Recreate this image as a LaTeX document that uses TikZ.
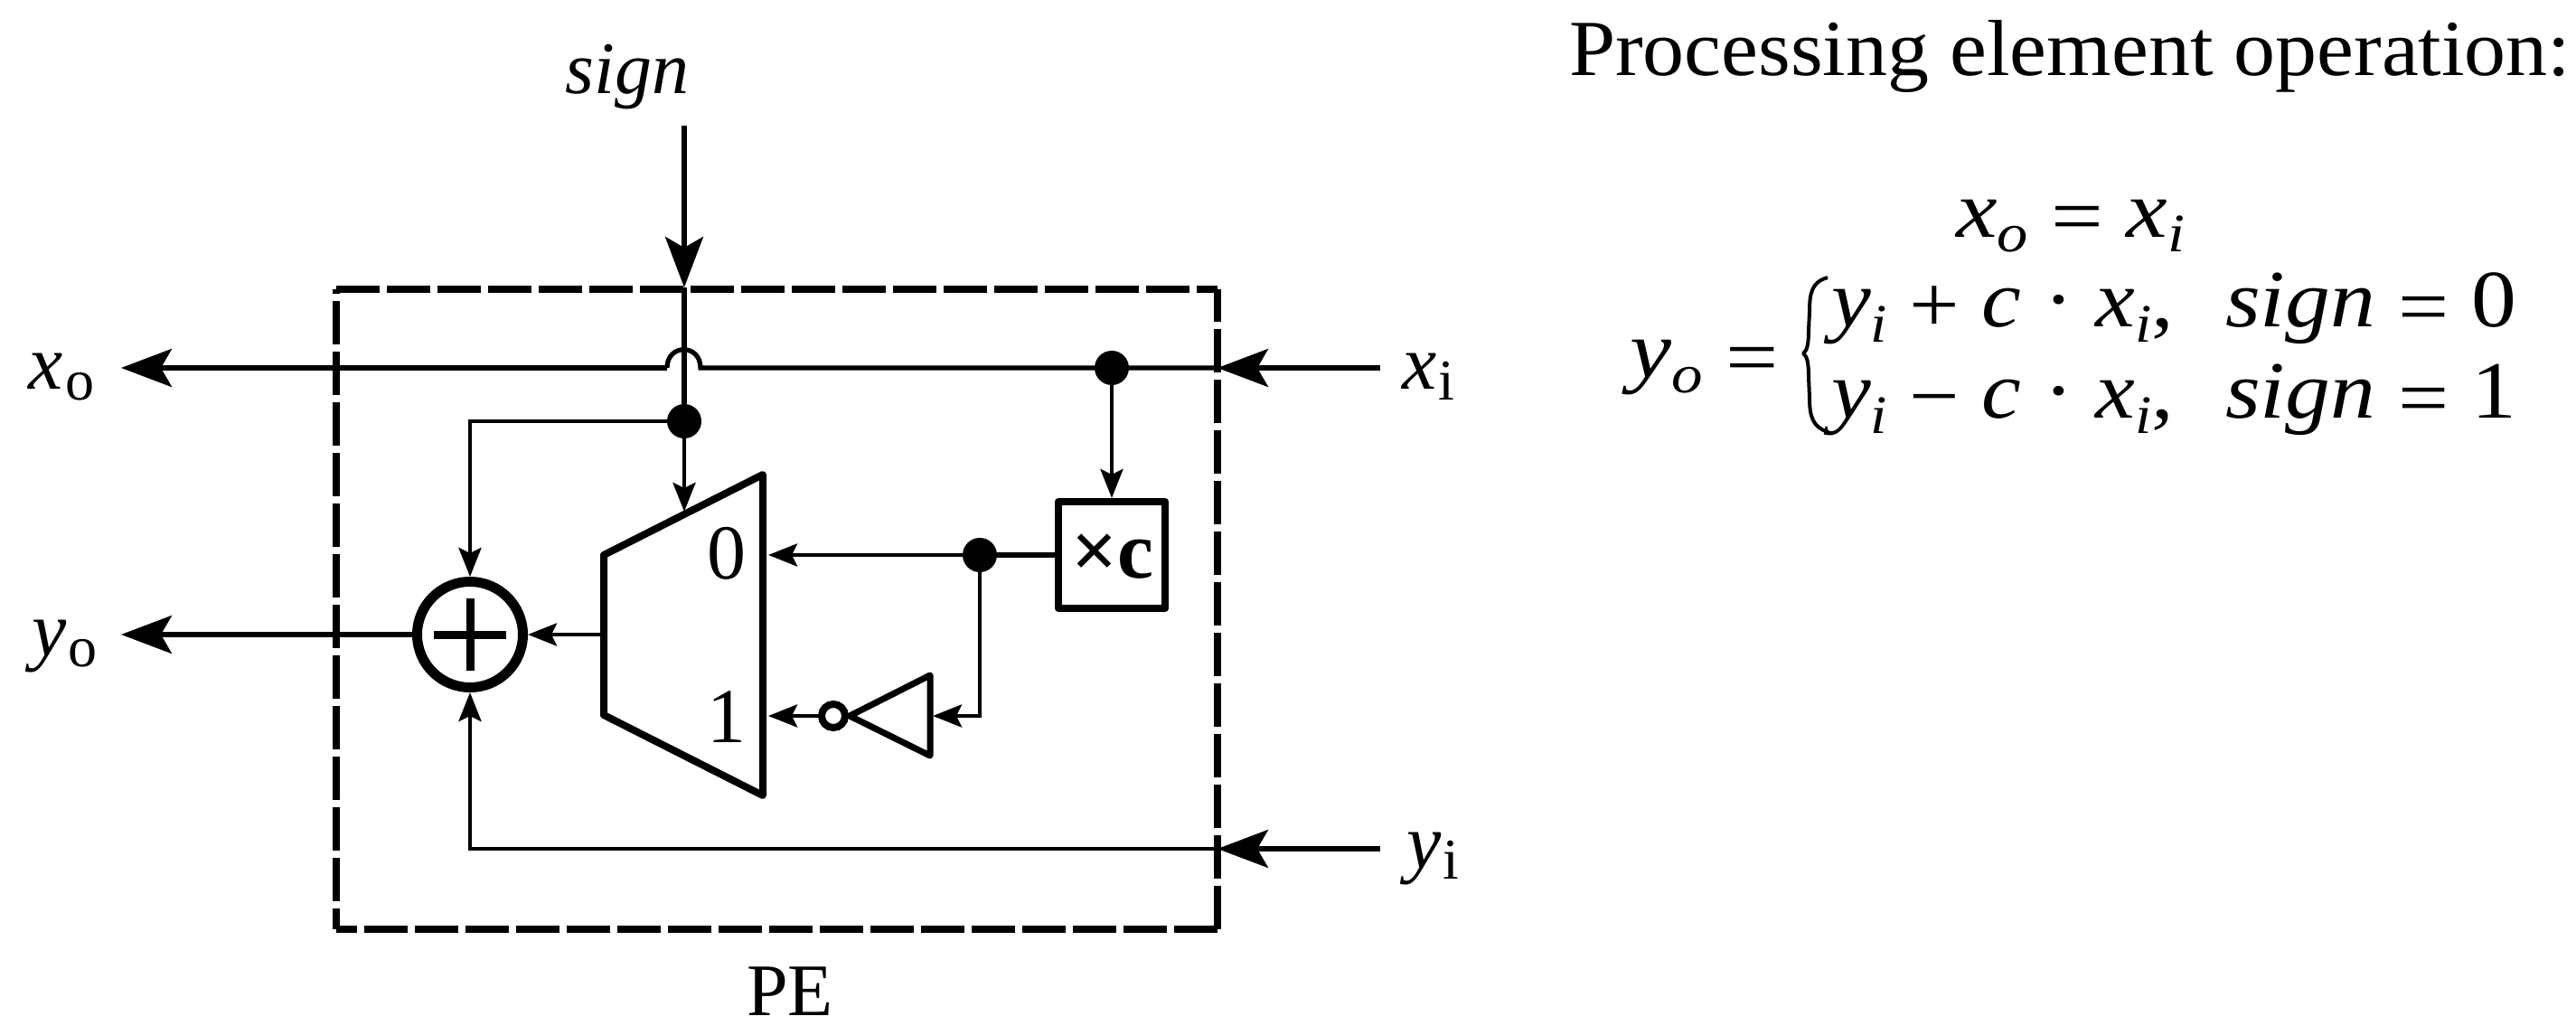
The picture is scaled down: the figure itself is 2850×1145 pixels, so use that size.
\documentclass[tikz,border=0pt]{standalone}
\usepackage{fontspec}
\usepackage{graphicx}
\setmainfont{Liberation Serif}
\usetikzlibrary{arrows.meta}
\newcommand{\fs}[1]{\fontsize{#1}{#1}\selectfont}
\newcommand{\lab}[3]{{\fs{43}\textit{#1}\kern1pt\raisebox{#3}{\fs{32}#2}}}
\newcommand{\vv}[2]{\textit{#1}\raisebox{-8.5pt}{\fs{30}\textit{#2}}}
\newcommand{\eqt}[2]{\scalebox{#1}[1]{\fs{45}#2}}
\newcommand{\eqs}{\raisebox{-4pt}{=}}
\newcommand{\ops}[1]{\raisebox{-3pt}{#1}}
\tikzset{
  main/.style={line width=2.6pt},
  thin line/.style={line width=2.2pt},
  bigarrow/.style={main,-{Stealth[length=28pt,width=21pt,inset=6pt]}},
  smallarrow/.style={thin line,-{Stealth[length=16pt,width=12.5pt,inset=3pt]}},
  peside/.style={line width=4pt,dash pattern=on 24pt off 4pt},
  junction/.style={circle,fill=black,draw=none,minimum size=19pt,inner sep=0pt},
  txt/.style={inner sep=0pt,outer sep=0pt,anchor=base},
  block/.style={line width=4pt,line join=round},
}
\begin{document}
\begin{tikzpicture}[x=0.5pt,y=-0.5pt]
\useasboundingbox (0,0) rectangle (2850,1145);
% PE box corners
\coordinate (peTL) at (372,320);
\coordinate (peTR) at (1347,320);
\coordinate (peBL) at (372,1028);
\coordinate (peBR) at (1347,1028);
\draw[peside] (peTL) -- (peTR);
\draw[peside,dash phase=21.5pt] (peTL) -- (peBL);
\draw[peside] (peBR) -- (peBL);
\draw[peside] (peBR) -- (peTR);
% blocks
\node[circle,draw,line width=5.5pt,minimum size=58.5pt,inner sep=0pt] (adder) at (520,702) {};
\draw[line width=4.5pt] (adder.center) ++(-40,0) -- ++(80,0);
\draw[line width=4.5pt] (adder.center) ++(0,-40) -- ++(0,80);
\coordinate (muxTR) at (844,525);
\coordinate (muxTL) at (668,614);
\coordinate (muxBL) at (668,791);
\coordinate (muxBR) at (844,880);
\draw[block] (muxTR) -- (muxTL) -- (muxBL) -- (muxBR) -- cycle;
\node[draw,block,minimum width=59pt,minimum height=59pt,inner sep=0pt] (mul) at (1230,614) {};
\node[txt] (multxt) at (1231,639) {\fs{45}\bfseries ×c};
\node[txt] (zero) at (804,640) {\fs{43}0};
\node[txt] (one) at (804,821) {\fs{43}1};
\coordinate (invT) at (1029,747);
\coordinate (invB) at (1029,836);
\coordinate (invP) at (940,792);
\draw[line width=3.5pt,line join=round] (invT) -- (invP) -- (invB) -- cycle;
\node[circle,draw,line width=4pt,fill=white,minimum size=13pt,inner sep=0pt] (bubble) at (922,792) {};
% junctions
\node[junction] (jS) at (757,466) {};
\node[junction] (jX) at (1230,407) {};
\node[junction] (jM) at (1084,614) {};
% free ends
\coordinate (signTop) at (757,139);
\coordinate (signTip) at (757,318);
\coordinate (muxSel) at (757,566);
\coordinate (xiEnd) at (1527,407);
\coordinate (xiTip) at (1347,407);
\coordinate (xoTip) at (134,407);
\coordinate (hopR) at (775,407);
\coordinate (hopL) at (738,407);
\coordinate (yiEnd) at (1527,939);
\coordinate (yiTip) at (1347,939);
\coordinate (yoTip) at (134,702);
\coordinate (mux0) at (850,614);
\coordinate (mux1) at (850,792);
\coordinate (muxOut) at (668,702);
\coordinate (invIn) at (1032,792);
% connectors
\draw[bigarrow] (signTop) -- (signTip);
\draw[main] (signTip) -- (jS);
\draw[smallarrow] (jS) -- (muxSel);
\draw[smallarrow] (jS) -| (adder.north);
\draw[bigarrow] (xiEnd) -- (xiTip);
\draw[main] (xiTip) -- (hopR) .. controls (775,380) and (738,380) .. (hopL);
\draw[bigarrow] (hopL) -- (xoTip);
\draw[smallarrow] (jX) -- (mul.north);
\draw[main] (mul.west) -- (jM);
\draw[smallarrow] (jM) -- (mux0);
\draw[smallarrow] (jM) |- (invIn);
\draw[smallarrow] (bubble.west) -- (mux1);
\draw[smallarrow] (muxOut) -- (adder.east);
\draw[bigarrow] (adder.west) -- (yoTip);
\draw[bigarrow] (yiEnd) -- (yiTip);
\draw[smallarrow] (yiTip) -| (adder.south);
% labels
\node[txt] (signlab) at (694,104) {\fs{41}\textit{sign}};
\node[txt,anchor=base west] (xolab) at (32,430) {\lab{x}{o}{-6pt}};
\node[txt,anchor=base west] (yolab) at (35,725) {\lab{y}{o}{-6pt}};
\node[txt,anchor=base west] (xilab) at (1551,430) {\lab{x}{i}{-6pt}};
\node[txt,anchor=base west] (yilab) at (1556,960) {\lab{y}{i}{-6pt}};
\node[txt] (pelab) at (874,1123) {\fs{41}PE};
% right side
\node[txt,anchor=base west] (title) at (1736,84) {\scalebox{1.045}[1]{\fs{44}Processing element operation:}};
\node[txt,anchor=base west] (eqx) at (2164,262) {\eqt{1.14}{\vv{x}{o} \eqs{} \vv{x}{i}}};
\node[txt,anchor=base west] (eqy) at (1803,417) {\eqt{1.15}{\vv{y}{o} \eqs}};
\draw[line width=2pt,line join=round] (2022,307) .. controls (2004,312) and (2002,325) .. (2002,345) -- (2001,365) .. controls (2001,382) and (1999,388) .. (1995,391) .. controls (1999,394) and (2001,400) .. (2001,417) -- (2002,440) .. controls (2002,462) and (2006,472) .. (2022,478);
\node[txt,anchor=base west] (r1a) at (2026,361) {\eqt{1.095}{\vv{y}{i} \ops{+} \textit{c} · \vv{x}{i},}};
\node[txt,anchor=base west] (r1b) at (2462,361) {\eqt{1.107}{\textit{sign} \eqs{} 0}};
\node[txt,anchor=base west] (r2a) at (2026,462) {\eqt{1.095}{\vv{y}{i} \ops{−} \textit{c} · \vv{x}{i},}};
\node[txt,anchor=base west] (r2b) at (2462,462) {\eqt{1.107}{\textit{sign} \eqs{} 1}};
\end{tikzpicture}
\end{document}
